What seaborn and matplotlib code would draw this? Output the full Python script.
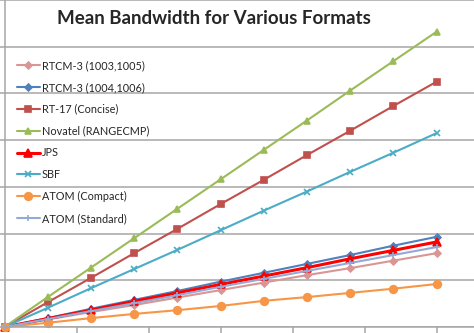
import pandas as pd
import numpy as np
import seaborn as sns
import matplotlib
matplotlib.use('Agg')
import matplotlib.pyplot as plt

# x positions (every 6 units, ticks every 10)
x_vals = [0, 6, 12, 18, 24, 30, 36, 42, 48, 54, 60]

rtcm_1003 = [0, 0.16, 0.32, 0.47, 0.63, 0.79, 0.95, 1.11, 1.26, 1.42, 1.58]
rtcm_1004 = [0, 0.19, 0.39, 0.58, 0.77, 0.97, 1.16, 1.35, 1.54, 1.74, 1.93]
rt17 = [0, 0.53, 1.05, 1.58, 2.10, 2.63, 3.15, 3.68, 4.20, 4.73, 5.25]
novatel = [0, 0.64, 1.27, 1.90, 2.53, 3.16, 3.79, 4.42, 5.06, 5.69, 6.32]
jps = [0, 0.18, 0.36, 0.55, 0.73, 0.91, 1.09, 1.27, 1.46, 1.64, 1.82]
sbf = [0, 0.41, 0.83, 1.24, 1.65, 2.07, 2.49, 2.90, 3.32, 3.73, 4.15]
atom_compact = [0, 0.09, 0.19, 0.28, 0.36, 0.45, 0.56, 0.64, 0.73, 0.82, 0.92]
atom_standard = [0, 0.17, 0.34, 0.51, 0.68, 0.86, 1.03, 1.20, 1.37, 1.54, 1.71]

names = ['RTCM-3 (1003,1005)', 'RTCM-3 (1004,1006)', 'RT-17 (Concise)',
         'Novatel (RANGECMP)', 'JPS', 'SBF', 'ATOM (Compact)', 'ATOM (Standard)']
series = [rtcm_1003, rtcm_1004, rt17, novatel, jps, sbf, atom_compact, atom_standard]

# style per series: colour, marker, marker size, line width
styles = {
    'RTCM-3 (1003,1005)': ('#D99694', 'D', 3.5, 1.5),
    'RTCM-3 (1004,1006)': ('#4F81BD', 'D', 3.5, 1.5),
    'RT-17 (Concise)': ('#C0504D', 's', 4, 1.5),
    'Novatel (RANGECMP)': ('#9BBB59', '^', 5, 1.5),
    'JPS': ('#FF0000', '^', 5.5, 2.2),
    'SBF': ('#4BACC6', 'x', 4.5, 1.5),
    'ATOM (Compact)': ('#F79646', 'o', 5.5, 1.5),
    'ATOM (Standard)': ('#95A9D6', '+', 4.5, 1.5),
}

df = pd.concat([pd.DataFrame({'x': x_vals, 'bw': s, 'fmt': n}) for n, s in zip(names, series)])

sns.set_style('white')
plt.rcParams['font.family'] = ['Lato', 'DejaVu Sans']

fig = plt.figure(figsize=(4.74, 3.33), dpi=100)
W, H = 474, 333
ax = fig.add_axes([4.5 / W, 6 / H, 1 - 4.5 / W, 327 / H])

for n in names:
    c, m, ms, lw = styles[n]
    sns.lineplot(data=df[df['fmt'] == n], x='x', y='bw', ax=ax, color=c, marker=m,
                 markersize=ms, linewidth=lw, markeredgecolor=c, markeredgewidth=1.2,
                 label=n, clip_on=False)

ax.set_xlim(0, 469.5 / 7.2)
ax.set_ylim(0, 7)
ax.set_xticks([10, 20, 30, 40, 50, 60])
ax.set_yticks([0, 1, 2, 3, 4, 5, 6, 7])
ax.set_xticklabels([])
ax.set_yticklabels([])
ax.set_xlabel('')
ax.set_ylabel('')
ax.grid(axis='y', color='#A6A6A6', linewidth=1.1)
ax.grid(axis='x', visible=False)
for s in ['top', 'right']:
    ax.spines[s].set_visible(False)
for s in ['left', 'bottom']:
    ax.spines[s].set_color('#A6A6A6')
    ax.spines[s].set_linewidth(1.1)
ax.tick_params(axis='x', direction='out', length=5, color='#A6A6A6', width=1.1, bottom=True)
ax.tick_params(axis='y', direction='out', length=4, color='#A6A6A6', width=1.1, left=True)

ax.legend(loc='upper left', bbox_to_anchor=(17 / W, 1 - 60 / H), bbox_transform=fig.transFigure,
          frameon=False, fontsize=7.8, handlelength=2.1, handletextpad=0.2,
          labelspacing=1.0, borderpad=0, borderaxespad=0)

fig.text(214 / W, 1 - 18 / H, 'Mean Bandwidth for Various Formats', ha='center', va='center',
         fontsize=13.5, fontweight='bold')

fig.savefig('out.png', dpi=100)
